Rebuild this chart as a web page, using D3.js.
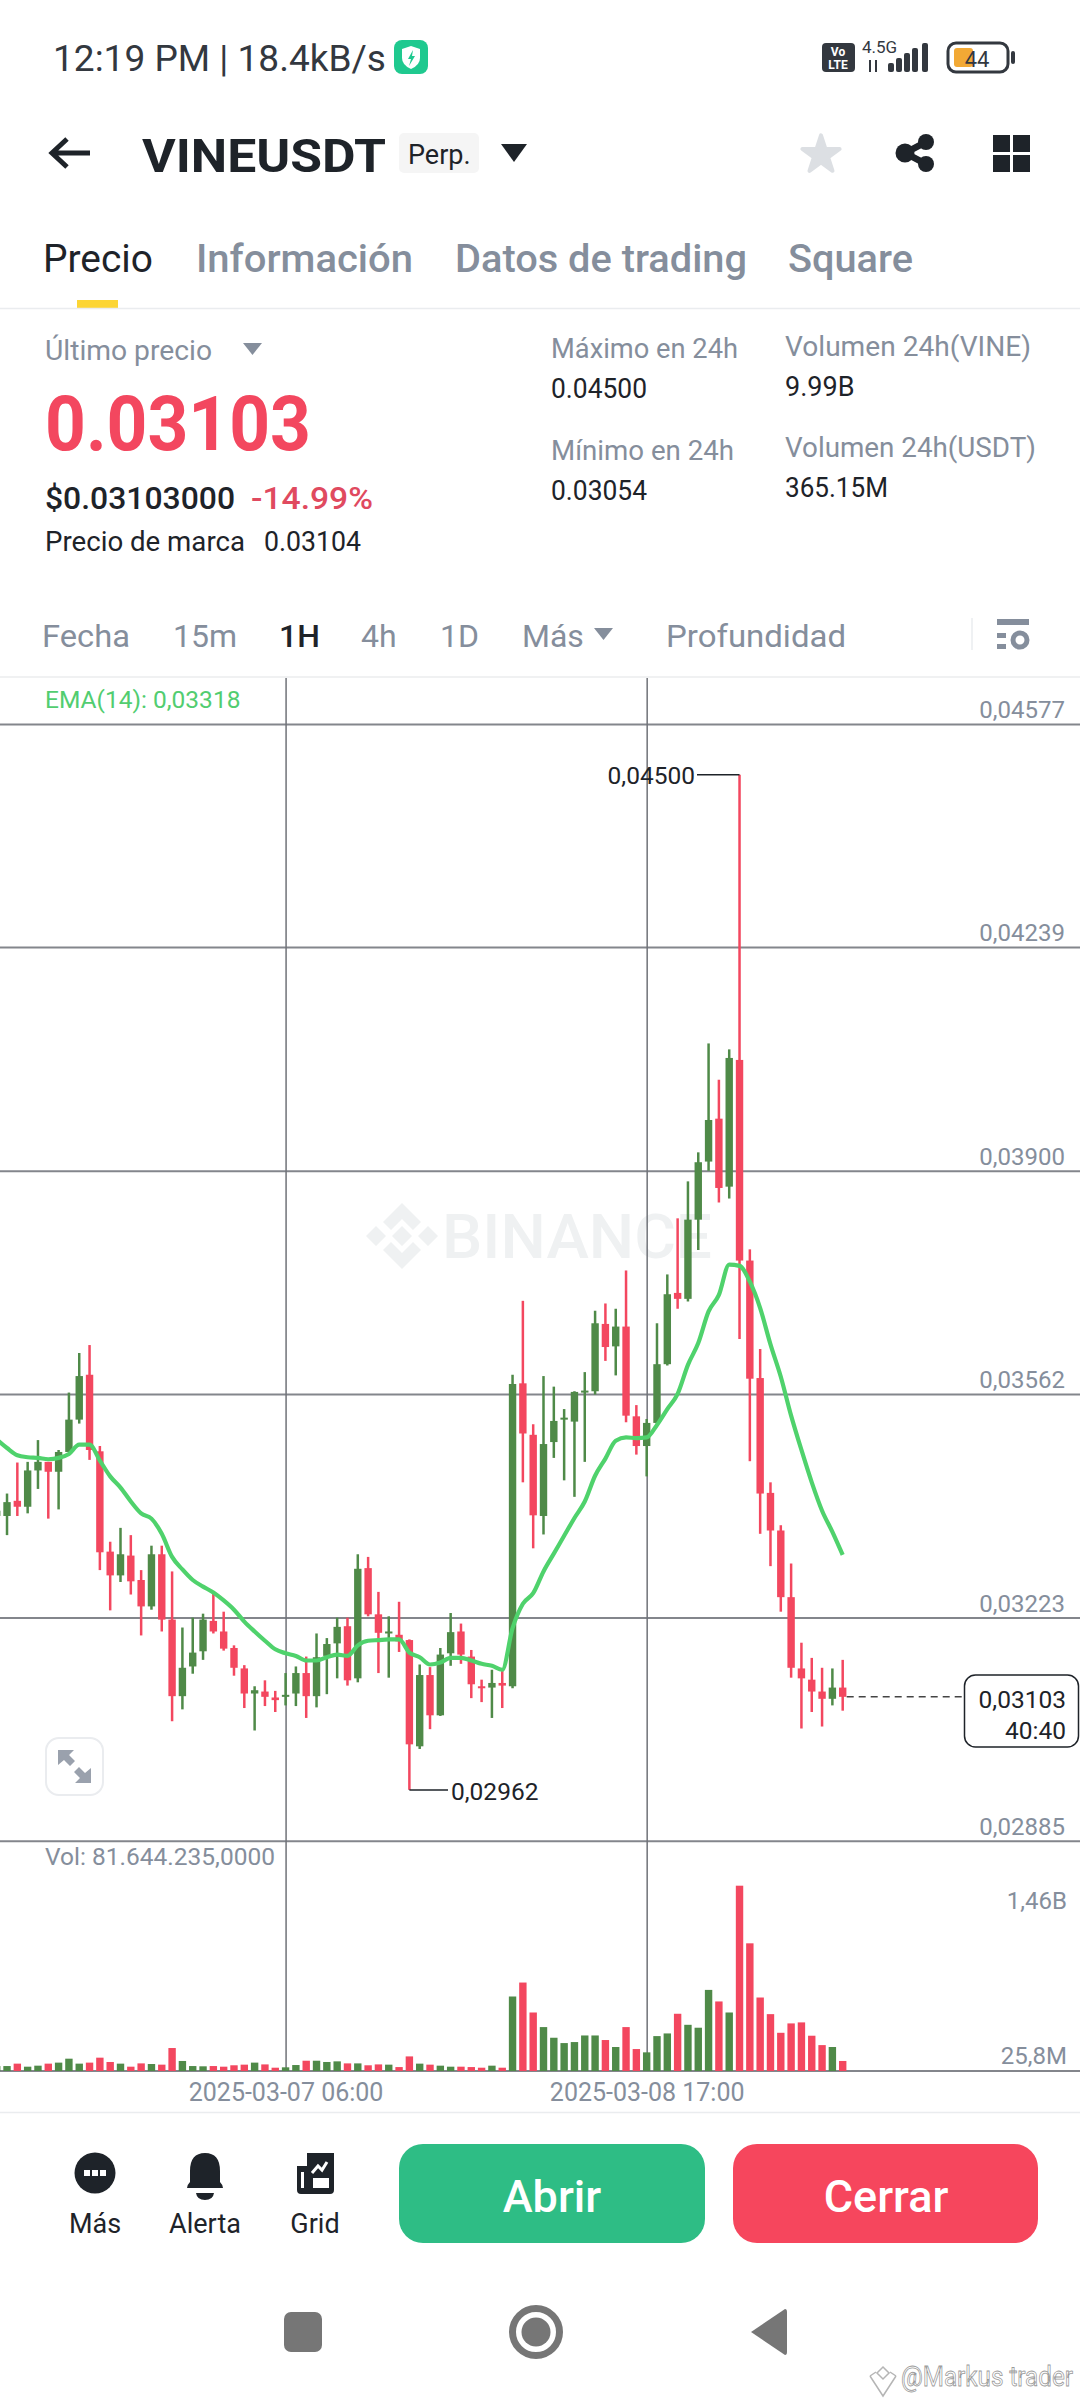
<!DOCTYPE html>
<html lang="es">
<head>
<meta charset="utf-8">
<title>VINEUSDT</title>
<script src="https://d3js.org/d3.v7.min.js"></script>
<style>
body { margin: 0; background: #fff; }
svg { display: block; font-family: Roboto, sans-serif; }
.domain { display: none; }
</style>
</head>
<body>
<script>
// candles, one hour each, oldest first
var highs = [
 .03401,.03411,.03458,.03459,.03492,.03459,.03477,.03564,.03624,.03636,
 .03483,.03338,.03359,.03348,.03295,.03332,.03332,.03293,.03208,.03223,
 .03229,.03261,.03232,.03181,.03151,.03119,.03128,.03112,.03139,.03149,
 .03164,.03199,.03192,.03223,.03223,.03319,.03315,.03262,.03225,.03247,
 .03190,.03152,.03148,.03177,.03230,.03214,.03174,.03129,.03144,.03142,
 .03591,.03703,.03516,.03589,.03573,.03539,.03566,.03595,.03688,.03699,
 .03691,.03749,.03545,.03524,.03669,.03743,.03828,.03884,.03928,.04093,
 .04038,.04084,.04500,.03781,.03630,.03428,.03363,.03305,.03185,.03162,
 .03147,.03146,.03159];
var lows = [
 .03363,.03348,.03377,.03381,.03418,.03373,.03387,.03474,.03517,.03462,
 .03295,.03234,.03277,.03258,.03196,.03235,.03202,.03066,.03084,.03138,
 .03159,.03199,.03173,.03135,.03086,.03052,.03089,.03080,.03090,.03089,
 .03071,.03087,.03107,.03131,.03120,.03125,.03225,.03139,.03132,.03171,
 .02962,.03024,.03054,.03074,.03150,.03153,.03101,.03095,.03071,.03086,
 .03116,.03428,.03328,.03349,.03465,.03431,.03406,.03459,.03561,.03612,
 .03590,.03519,.03470,.03437,.03515,.03605,.03691,.03702,.03780,.03900,
 .03852,.03858,.03645,.03460,.03350,.03301,.03232,.03132,.03055,.03080,
 .03058,.03090,.03082];
var opens = [
 .03377,.03377,.03400,.03391,.03446,.03459,.03444,.03474,.03523,.03591,
 .03475,.03323,.03287,.03317,.03280,.03240,.03319,.03220,.03104,.03149,
 .03172,.03218,.03202,.03177,.03146,.03108,.03111,.03102,.03103,.03108,
 .03139,.03104,.03165,.03184,.03210,.03131,.03298,.03228,.03199,.03197,
 .03189,.03028,.03136,.03075,.03169,.03202,.03164,.03119,.03117,.03124,
 .03119,.03578,.03500,.03377,.03489,.03523,.03520,.03564,.03566,.03668,
 .03634,.03664,.03528,.03483,.03518,.03607,.03715,.03706,.03826,.03914,
 .03979,.03876,.04068,.03764,.03586,.03412,.03355,.03254,.03146,.03129,
 .03111,.03100,.03117];
var closes = [
 .03385,.03398,.03391,.03446,.03459,.03444,.03474,.03523,.03589,.03477,
 .03322,.03287,.03319,.03278,.03240,.03319,.03220,.03104,.03147,.03170,
 .03220,.03202,.03176,.03147,.03108,.03113,.03103,.03098,.03106,.03139,
 .03104,.03163,.03183,.03209,.03128,.03297,.03228,.03200,.03202,.03187,
 .03031,.03136,.03075,.03167,.03201,.03167,.03122,.03116,.03124,.03120,
 .03577,.03502,.03378,.03486,.03521,.03526,.03565,.03567,.03669,.03633,
 .03664,.03529,.03483,.03518,.03607,.03713,.03706,.03826,.03913,.03977,
 .03874,.04071,.03764,.03585,.03411,.03355,.03254,.03147,.03131,.03111,
 .03100,.03117,.03103];
var ema14 = [
 .03493,.03480,.03469,.03466,.03465,.03463,.03465,.03471,.03485,.03485,
 .03461,.03437,.03420,.03399,.03381,.03373,.03350,.03315,.03296,.03280,
 .03270,.03261,.03249,.03235,.03217,.03202,.03188,.03175,.03169,.03165,
 .03158,.03158,.03163,.03167,.03165,.03181,.03188,.03189,.03190,.03190,
 .03170,.03163,.03152,.03155,.03162,.03162,.03158,.03153,.03150,.03144,
 .03207,.03244,.03260,.03293,.03320,.03347,.03374,.03399,.03438,.03464,
 .03491,.03496,.03495,.03496,.03515,.03539,.03562,.03606,.03639,.03687,
 .03712,.03758,.03756,.03732,.03692,.03637,.03588,.03529,.03477,.03428,
 .03385,.03353,.03318];
// volume in millions
var volumes = [
 39,39,58,34,42,58,66,97,58,66,
 105,71,58,34,60,55,50,181,79,39,
 37,39,34,45,50,66,52,26,29,47,
 81,81,71,76,60,60,45,52,50,31,
 115,58,50,42,34,34,31,26,42,26,
 587,697,461,346,262,220,228,280,280,244,
 189,346,173,147,275,296,451,364,341,639,
 548,461,1460,1006,579,448,301,375,383,278,
 204,189,79];

var priceTicks = [0.04577, 0.04239, 0.03900, 0.03562, 0.03223, 0.02885];
var priceTickLabels = ["0,04577", "0,04239", "0,03900", "0,03562", "0,03223", "0,02885"];
var timeTicks = [28, 63];
var timeTickLabels = ["2025-03-07 06:00", "2025-03-08 17:00"];
var volTicks = [1460, 25.8];
var volTickLabels = ["1,46B", "25,8M"];
var lastPrice = 0.03103, maxPrice = 0.04500, minPrice = 0.02962;

var w = 1080, h = 2400;
var green = "#4f8a48", red = "#f3475f", emaColor = "#4fd26c";
var ink = "#1e2329", grey = "#858e9c";
var chartTop = 678, volBase = 2071;

var svg = d3.select("body").append("svg").attr("width", w).attr("height", h);

function txt(x, y, s, size, fill, o) {
	o = o || {};
	var t = svg.append("text").attr("x", x).attr("y", y).text(s)
		.attr("font-size", size).attr("fill", fill)
		.attr("text-anchor", o.anchor || "start")
		.attr("font-weight", o.weight || 400)
		.attr("letter-spacing", o.ls || null);
	// squeeze or stretch to the measured width of the original
	if (o.len) t.attr("textLength", o.len).attr("lengthAdjust", "spacingAndGlyphs");
	return t;
}
function rule(x1, y1, x2, y2, c, sw) {
	return svg.append("line").attr("x1", x1).attr("y1", y1).attr("x2", x2).attr("y2", y2)
		.attr("stroke", c).attr("stroke-width", sw);
}
function shape(d, fill) {
	return svg.append("path").attr("d", d).attr("fill", fill);
}

//Status bar
txt(53, 71, "12:19 PM | 18.4kB/s", 37, "#33383f", {len: 333});
svg.append("rect").attr("x", 394).attr("y", 40).attr("width", 34).attr("height", 34).attr("rx", 8).attr("fill", "#1fc98f");
shape("M411 46l9 3v9q0 7-9 11q-9-4-9-11v-9z", "#fff");
shape("M413 50l-5 9h3l-2 7l6-10h-3z", "#1fc98f");
svg.append("rect").attr("x", 822).attr("y", 43).attr("width", 33).attr("height", 29).attr("rx", 4).attr("fill", "#33383f");
txt(838, 56, "Vo", 12, "#fff", {anchor: "middle", weight: 700});
txt(838, 69, "LTE", 12, "#fff", {anchor: "middle", weight: 700});
txt(862, 53, "4.5G", 17, "#33383f");
[[888, 63], [896, 58], [904, 53], [912, 48], [922, 43]].forEach(function(b) {
	svg.append("rect").attr("x", b[0]).attr("y", b[1]).attr("width", 6).attr("height", 72 - b[1]).attr("rx", 2).attr("fill", "#33383f");
});
shape("M869 60v12h2v-12zM875 60v12h2v-12z", "#33383f");
svg.append("rect").attr("x", 948).attr("y", 43).attr("width", 60).attr("height", 29).attr("rx", 8).attr("fill", "none").attr("stroke", "#33383f").attr("stroke-width", 3);
svg.append("rect").attr("x", 954).attr("y", 48).attr("width", 19).attr("height", 19).attr("rx", 3).attr("fill", "#f2a935");
svg.append("rect").attr("x", 1011).attr("y", 51).attr("width", 4).attr("height", 13).attr("rx", 2).attr("fill", "#33383f");
txt(977, 67, "44", 22, "#33383f", {anchor: "middle"});

//Header
svg.append("path").attr("d", "M90 153H54M67 139L52 153L67 167").attr("fill", "none").attr("stroke", ink).attr("stroke-width", 5);
txt(142, 172, "VINEUSDT", 46, ink, {weight: 700, len: 244});
svg.append("rect").attr("x", 399).attr("y", 133).attr("width", 80).attr("height", 40).attr("rx", 5).attr("fill", "#f5f5f5");
txt(408, 164, "Perp.", 27, ink);
shape("M501 144h26l-13 18z", ink);
svg.append("path").attr("d", d3.symbol(d3.symbolStar, 430)()).attr("transform", "translate(821,155)")
	.attr("fill", "#dcdfe3").attr("stroke", "#dcdfe3").attr("stroke-width", 4).attr("stroke-linejoin", "round");
svg.append("path").attr("d", "M926 142L905 153L926 164").attr("fill", "none").attr("stroke", ink).attr("stroke-width", 6.5);
[[926, 142, 8], [905, 153, 9.5], [926, 164, 8]].forEach(function(c) {
	svg.append("circle").attr("cx", c[0]).attr("cy", c[1]).attr("r", c[2]).attr("fill", ink);
});
[[993, 135], [1013, 135], [993, 155], [1013, 155]].forEach(function(c) {
	svg.append("rect").attr("x", c[0]).attr("y", c[1]).attr("width", 17).attr("height", 17).attr("fill", ink);
});

//Tabs
txt(43, 272, "Precio", 38, ink, {len: 110});
txt(196, 272, "Información", 38, grey, {weight: 500, len: 217});
txt(455, 272, "Datos de trading", 38, grey, {weight: 500, len: 292});
txt(788, 272, "Square", 38, grey, {weight: 500, len: 125});
svg.append("rect").attr("x", 77).attr("y", 300).attr("width", 41).attr("height", 8).attr("fill", "#fcd535");
rule(0, 308.5, w, 308.5, "#eaecef", 1.5);

//Ticker block
txt(45, 360, "Último precio", 27, grey, {len: 167});
shape("M243 343h19l-9.5 12z", grey);
txt(45, 450, "0.03103", 76, red, {weight: 700, len: 266});
txt(45, 509, "$0.03103000", 31, ink, {weight: 500, len: 190});
txt(251, 509, "-14.99%", 31, "#e04a5f", {weight: 500, len: 122});
txt(45, 551, "Precio de marca", 27, ink, {len: 200});
txt(264, 551, "0.03104", 27, ink, {len: 97});
txt(551, 358, "Máximo en 24h", 27, grey, {len: 187});
txt(551, 398, "0.04500", 27, ink, {len: 96});
txt(551, 460, "Mínimo en 24h", 27, grey, {len: 183});
txt(551, 500, "0.03054", 27, ink, {len: 96});
txt(785, 356, "Volumen 24h(VINE)", 27, grey, {len: 246});
txt(785, 396, "9.99B", 27, ink);
txt(785, 457, "Volumen 24h(USDT)", 27, grey, {len: 251});
txt(785, 497, "365.15M", 27, ink, {len: 103});

//Interval bar
txt(42, 647, "Fecha", 32, grey, {len: 88});
txt(173, 647, "15m", 32, grey);
txt(279, 647, "1H", 32, ink, {weight: 500});
txt(361, 647, "4h", 32, grey);
txt(440, 647, "1D", 32, grey);
txt(522, 647, "Más", 32, grey);
shape("M594 628h19l-9.5 12z", grey);
txt(666, 647, "Profundidad", 32, grey, {len: 180});
rule(972, 618, 972, 650, "#eaecef", 1.5);
svg.append("rect").attr("x", 997).attr("y", 619).attr("width", 32).attr("height", 6).attr("fill", grey);
svg.append("rect").attr("x", 997).attr("y", 633).attr("width", 9).attr("height", 5).attr("fill", grey);
svg.append("rect").attr("x", 997).attr("y", 644).attr("width", 9).attr("height", 5).attr("fill", grey);
svg.append("circle").attr("cx", 1020).attr("cy", 640).attr("r", 7).attr("fill", "none").attr("stroke", grey).attr("stroke-width", 5);
rule(0, 677, w, 677, "#f0f1f2", 2);

//Scales
var x = d3.scaleLinear().domain([0, closes.length - 1]).range([-3.3, 842.7]);
var y = d3.scaleLinear().domain([0.02885, 0.04577]).range([1840.7, 724]);
var yVol = d3.scaleLinear().domain([0, 1460]).range([volBase, 1885.7]);

//Binance watermark, behind the chart
shape("M402 1203l19 19l-8 8l-11-11l-11 11l-8-8zM402 1269l19-19l-8-8l-11 11l-11-11l-8 8zM402 1226l10 10l-10 10l-10-10zM376 1226l10 10l-10 10l-10-10zM428 1226l10 10l-10 10l-10-10z", "#eff1f2");
txt(442, 1258, "BINANCE", 62, "#eff1f2", {weight: 500, len: 270});

//Axes: gridlines come from the tick lines
var yAxis = d3.axisRight(y).tickValues(priceTicks).tickSize(w)
	.tickFormat(function(d, i) { return priceTickLabels[i]; });
var gy = svg.append("g").call(yAxis);
gy.selectAll("line").attr("stroke", "#83868c").attr("stroke-width", 2);
gy.selectAll("text").attr("x", 1065).attr("dy", -6.5).attr("text-anchor", "end")
	.attr("font-size", 24).attr("font-family", "Roboto").attr("fill", grey);

var xAxis = d3.axisBottom(x).tickValues(timeTicks).tickSizeInner(chartTop - volBase).tickSizeOuter(0)
	.tickFormat(function(d, i) { return timeTickLabels[i]; });
var gx = svg.append("g").attr("transform", "translate(0," + volBase + ")").call(xAxis);
gx.selectAll("line").attr("stroke", "#6f7278").attr("stroke-width", 1.5);
gx.selectAll("text").attr("y", 30).attr("dy", 0).attr("font-size", 25).attr("font-family", "Roboto").attr("fill", grey);

rule(0, volBase, w, volBase, "#83868c", 2);

var idx = d3.range(closes.length);
function col(i) { return closes[i] >= opens[i] ? green : red; }

//Volume bars
svg.append("g").selectAll("rect").data(idx).enter().append("rect")
	.attr("x", function(i) { return x(i) - 3.7; })
	.attr("width", 7.4)
	.attr("y", function(i) { return yVol(volumes[i]); })
	.attr("height", function(i) { return volBase - yVol(volumes[i]); })
	.attr("fill", col);

//Wicks
svg.append("g").selectAll("line").data(idx).enter().append("line")
	.attr("x1", function(i) { return x(i); })
	.attr("x2", function(i) { return x(i); })
	.attr("y1", function(i) { return y(highs[i]); })
	.attr("y2", function(i) { return y(lows[i]); })
	.attr("stroke", col).attr("stroke-width", 2.5);

//Bodies
svg.append("g").selectAll("rect").data(idx).enter().append("rect")
	.attr("x", function(i) { return x(i) - 3.7; })
	.attr("width", 7.4)
	.attr("y", function(i) { return y(Math.max(opens[i], closes[i])); })
	.attr("height", function(i) { return Math.max(2, Math.abs(y(opens[i]) - y(closes[i]))); })
	.attr("fill", col);

//EMA
var line = d3.line().x(function(d, i) { return x(i); }).y(function(d) { return y(d); }).curve(d3.curveMonotoneX);
svg.append("path").datum(ema14).attr("d", line).attr("fill", "none")
	.attr("stroke", emaColor).attr("stroke-width", 4.2);

//Chart labels
txt(45, 708, "EMA(14): 0,03318", 24.5, "#52cd70");
txt(45, 1865, "Vol: 81.644.235,0000", 24.5, grey);
var yVolAxis = d3.axisLeft(yVol).tickValues(volTicks).tickSize(0)
	.tickFormat(function(d, i) { return volTickLabels[i]; });
var gv = svg.append("g").attr("transform", "translate(1067,0)").call(yVolAxis);
gv.selectAll("text").attr("x", 0).attr("text-anchor", "end").attr("font-size", 24)
	.attr("font-family", "Roboto").attr("fill", grey)
	.attr("dy", function(d) { return d > 100 ? 23 : -4; });

//Max and min callouts
var iMax = highs.indexOf(maxPrice), iMin = lows.indexOf(minPrice);
rule(697, y(maxPrice), x(iMax), y(maxPrice), ink, 1.5);
txt(695, y(maxPrice) + 9, "0,04500", 24.5, ink, {anchor: "end"});
rule(x(iMin), y(minPrice), 448, y(minPrice), ink, 1.5);
txt(451, y(minPrice) + 10, "0,02962", 24.5, ink);

//Last price tag
rule(x(82) + 4, y(lastPrice), 964, y(lastPrice), "#444", 1.5).attr("stroke-dasharray", "7 5");
svg.append("rect").attr("x", 964.5).attr("y", 1675).attr("width", 114).attr("height", 72).attr("rx", 11)
	.attr("fill", "#fff").attr("stroke", ink).attr("stroke-width", 1.5);
txt(1066, 1708, "0,03103", 24.5, ink, {anchor: "end"});
txt(1066, 1739, "40:40", 24.5, ink, {anchor: "end"});

//Expand button
svg.append("rect").attr("x", 46).attr("y", 1738).attr("width", 57).attr("height", 57).attr("rx", 13)
	.attr("fill", "#fff").attr("stroke", "#eaecef").attr("stroke-width", 2);
shape("M58 1750h16l-5 5l6 6l-5 5l-6-6l-6 5zM91 1783h-16l5-5l-6-6l5-5l6 6l6-5z", "#9aa1ad");

//Bottom bar
rule(0, 2112.5, w, 2112.5, "#eaecef", 1.5);
svg.append("circle").attr("cx", 95).attr("cy", 2173).attr("r", 20.5).attr("fill", ink);
[84, 92, 100].forEach(function(c) {
	svg.append("rect").attr("x", c).attr("y", 2170).attr("width", 6).attr("height", 6).attr("fill", "#fff");
});
shape("M205 2153q-15 0-15 18v11q-3 3-3 6h36q0-3-3-6v-11q0-18-15-18zM196 2193h18q-1 7-9 7t-9-7z", ink);
shape("M307 2153h27v37q0 4-4 4h-29q-4 0-4-4v-24h10z", ink);
svg.append("path").attr("d", "M312 2173l6-7l4 4l5-8").attr("fill", "none").attr("stroke", "#fff").attr("stroke-width", 3);
svg.append("rect").attr("x", 313).attr("y", 2178).attr("width", 16).attr("height", 10).attr("fill", "#fff");
svg.append("rect").attr("x", 301).attr("y", 2172).attr("width", 3).attr("height", 16).attr("fill", "#fff");
txt(95, 2233, "Más", 27, ink, {anchor: "middle"});
txt(205, 2233, "Alerta", 27, ink, {anchor: "middle"});
txt(315, 2233, "Grid", 27, ink, {anchor: "middle"});
svg.append("rect").attr("x", 399).attr("y", 2144).attr("width", 306).attr("height", 99).attr("rx", 24).attr("fill", "#2ebd85");
svg.append("rect").attr("x", 733).attr("y", 2144).attr("width", 305).attr("height", 99).attr("rx", 24).attr("fill", "#f6465d");
txt(552, 2212, "Abrir", 45, "#fff", {anchor: "middle", weight: 500});
txt(886, 2212, "Cerrar", 45, "#fff", {anchor: "middle", weight: 500});

//Nav bar
svg.append("rect").attr("x", 284).attr("y", 2312).attr("width", 38).attr("height", 40).attr("rx", 7).attr("fill", "#767676");
svg.append("circle").attr("cx", 536).attr("cy", 2332).attr("r", 23.5).attr("fill", "none").attr("stroke", "#767676").attr("stroke-width", 7);
svg.append("circle").attr("cx", 536).attr("cy", 2332).attr("r", 14.5).attr("fill", "#767676");
shape("M785 2309q2 0 2 3v40q0 3-2 3l-34-23z", "#767676");

//Source watermark
svg.append("path").attr("d", "M883 2367l6 6l-6 6l-6-6zM870 2376l13 20l13-20M870 2376l6-4M896 2376l-6-4").attr("fill", "none").attr("stroke", "#b5b5b5").attr("stroke-width", 1.5);
txt(901, 2386, "@Markus trader", 27, "#fff", {len: 172}).attr("stroke", "#9a9a9a").attr("stroke-width", 0.8);
</script>
</body>
</html>
